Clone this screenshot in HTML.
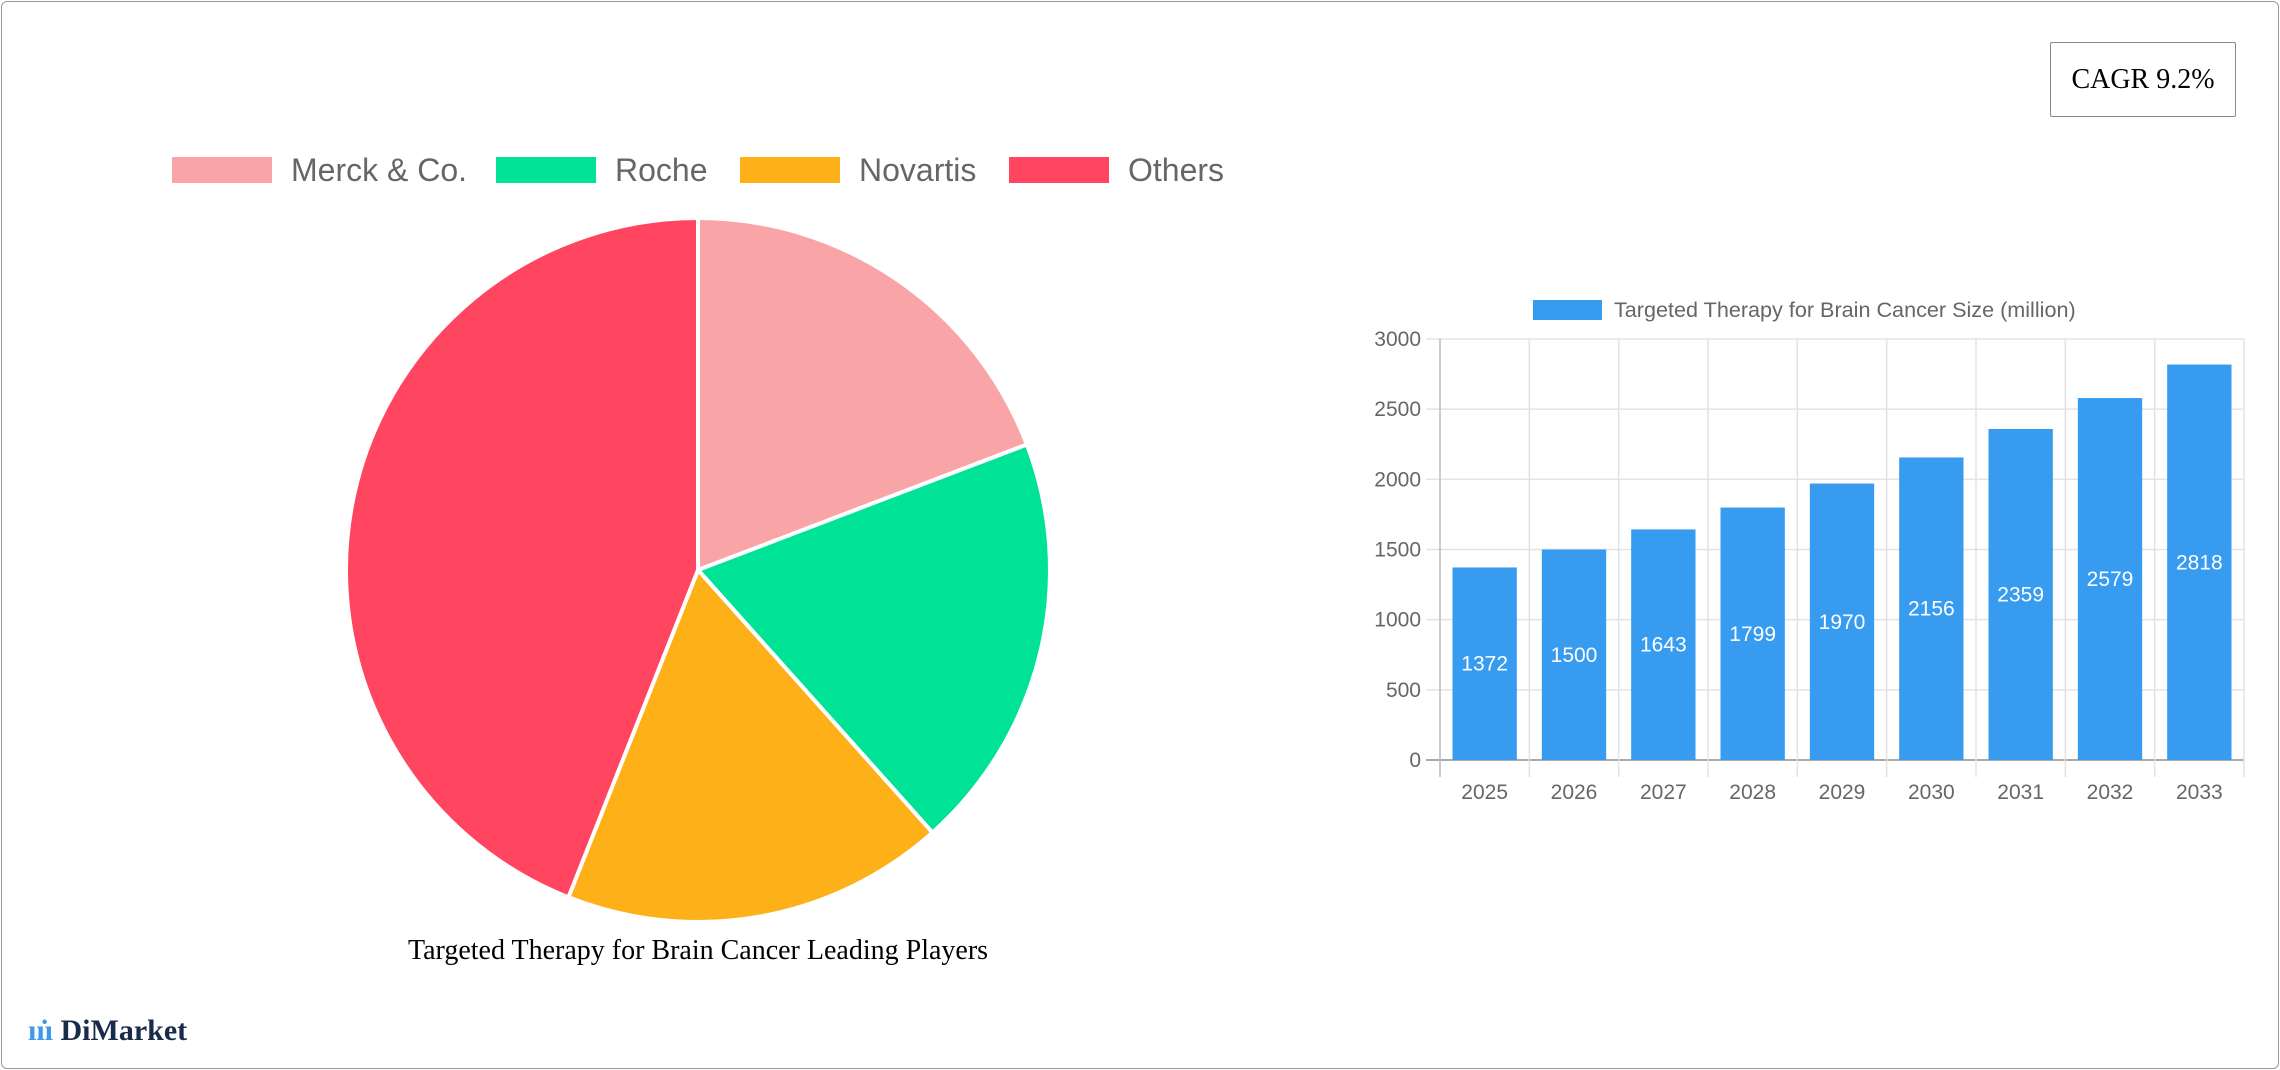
<!DOCTYPE html>
<html><head><meta charset="utf-8"><style>
body{margin:0;width:2280px;height:1070px;overflow:hidden;background:#fff;font-family:"Liberation Sans",sans-serif}
#frame{position:absolute;left:1px;top:1px;width:2276px;height:1066px;border:1px solid #9a9a9a;border-radius:6px}
#cagr{position:absolute;left:2050px;top:42px;width:184px;height:73px;border:1px solid #888;border-radius:2px;font-family:"Liberation Serif",serif;font-size:28px;line-height:73px;text-align:center;color:#000}
#logo{position:absolute;left:28px;top:1014px;font-family:"Liberation Serif",serif;font-size:30px;font-weight:bold;color:#1a2b4a}
</style></head><body>
<div id="frame"></div>
<div id="cagr">CAGR 9.2%</div>
<div id="logo"><span style="color:#3a9af0;font-weight:bold">ıı̇ı</span> DiMarket</div>
<svg id="chart" width="2280" height="1070" style="position:absolute;left:0;top:0"></svg>
<script>
const pieLabels=["Merck & Co.","Roche","Novartis","Others"];
const pieValues=[19.2,19.2,17.6,44.0];
const pieColors=["#f9a4a6","#00e396","#feb019","#ff4560"];
const years=["2025","2026","2027","2028","2029","2030","2031","2032","2033"];
const sizes=[1372,1500,1643,1799,1970,2156,2359,2579,2818];
const yTicks=[0,500,1000,1500,2000,2500,3000];
const NS="http://www.w3.org/2000/svg";
const svg=document.getElementById('chart');
function mk(t,a,p){const e=document.createElementNS(NS,t);for(const k in a)e.setAttribute(k,a[k]);(p||svg).appendChild(e);return e;}
const legX=[172,496,740,1009];
pieLabels.forEach((l,i)=>{
 const r=mk('rect',{x:legX[i],y:157,width:100,height:26,fill:pieColors[i]});
 
 const t=mk('text',{x:legX[i]+119,y:181,'font-size':32,fill:'#666'});t.textContent=l;
 
});
const cx=698,cy=570,R=352;const tot=pieValues.reduce((a,b)=>a+b,0);let a0=0;
pieValues.forEach((v,i)=>{
 const a1=a0+v/tot*2*Math.PI;
 const x0=cx+R*Math.sin(a0),y0=cy-R*Math.cos(a0),x1=cx+R*Math.sin(a1),y1=cy-R*Math.cos(a1);
 const p=mk('path',{d:`M${cx},${cy}L${x0},${y0}A${R},${R} 0 ${a1-a0>Math.PI?1:0} 1 ${x1},${y1}Z`,fill:pieColors[i],stroke:'#fff','stroke-width':4});
 
 a0=a1;
});
const pt=mk('text',{x:698,y:959,'font-size':28,'text-anchor':'middle','font-family':'Liberation Serif, serif',fill:'#000'});
pt.textContent="Targeted Therapy for Brain Cancer Leading Players";

const L=1440,Rr=2244,T=339,B=760,max=3000;
const yS=v=>B-(v/max)*(B-T);const cw=(Rr-L)/years.length;
yTicks.forEach(v=>{
 const g=mk('line',{x1:L-14,x2:Rr,y1:yS(v),y2:yS(v),stroke:v===0?'#aaa':'#e3e3e3','stroke-width':v===0?2:1.5});
 
 const t=mk('text',{x:1421,y:yS(v)+7,'font-size':21,'text-anchor':'end',fill:'#666'});t.textContent=v;
 
});
for(let i=0;i<=years.length;i++){
 const g=mk('line',{x1:L+i*cw,x2:L+i*cw,y1:T,y2:777,stroke:i===0?'#bbb':'#e3e3e3','stroke-width':1.5});
 
}
years.forEach((y,i)=>{
 const c=L+(i+.5)*cw,bw=cw*0.72;
 const r=mk('rect',{x:c-bw/2,y:yS(sizes[i]),width:bw,height:B-yS(sizes[i]),fill:'#379bf0'});
 
 const v=mk('text',{x:c,y:(yS(sizes[i])+B)/2+7,'font-size':21,'text-anchor':'middle',fill:'#fff'});v.textContent=sizes[i];
 
 const t=mk('text',{x:c,y:799,'font-size':21,'text-anchor':'middle',fill:'#666'});t.textContent=y;
 
});
const lr=mk('rect',{x:1533,y:300,width:69,height:20,fill:'#379bf0'});

const lt=mk('text',{x:1614,y:317,'font-size':21.6,fill:'#666'});lt.textContent="Targeted Therapy for Brain Cancer Size (million)";

</script>
</body></html>
